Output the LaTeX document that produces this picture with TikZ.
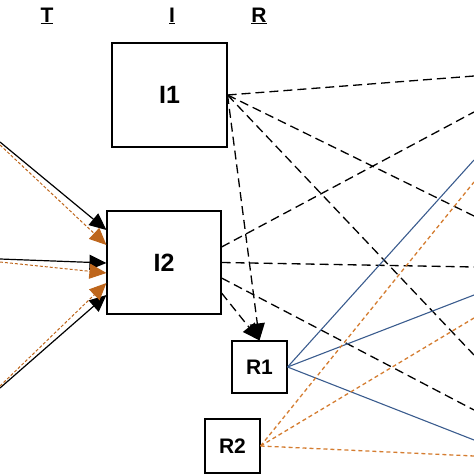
\documentclass[tikz,border=0pt]{standalone}
\usepackage{fontspec}
\setmainfont{Liberation Sans}
\usetikzlibrary{arrows.meta,positioning,calc}

\definecolor{linkblue}{RGB}{58,92,142}
\definecolor{linkorange}{RGB}{212,124,48}
\definecolor{tiporange}{RGB}{190,102,28}

\begin{document}
\begin{tikzpicture}[x=1pt,y=-1pt,
    box/.style={draw,line width=1.1pt,inner sep=0pt},
    ibox/.style={box,font=\bfseries\fontsize{25}{28}\selectfont},
    rbox/.style={box,font=\bfseries\fontsize{21}{24}\selectfont},
    head/.style={font=\bfseries\fontsize{21}{24}\selectfont},
    blackdash/.style={dash pattern=on 9pt off 5pt,line width=1.3pt},
    orangedash/.style={linkorange,dash pattern=on 4pt off 3pt,line width=1.3pt},
    bluelink/.style={linkblue,line width=1.1pt},
    intip/.style={-{Triangle[length=17pt,width=15pt]}},
    orangein/.style={tiporange,dash pattern=on 3pt off 2pt,line width=1pt,
        -{Triangle[length=17pt,width=15pt,fill=tiporange]}}]
\useasboundingbox (0,0) rectangle (474,474);

% Headings
\node[head] (tHead) at (47,16) {\underline{T}};
\node[head] (iHead) at (172,16) {\underline{I}};
\node[head] (rHead) at (259,16) {\underline{R}};

% Boxes
\node[ibox,minimum width=115pt,minimum height=104pt] (i1) at (169.5,95) {I1};
\node[ibox,minimum width=114pt,minimum height=103pt] (i2) at (164,262.5) {I2};
\node[rbox,minimum width=55pt,minimum height=52pt] (r1) at (259.5,367) {R1};
\node[rbox,minimum width=55pt,minimum height=54pt] (r2) at (232.5,446) {R2};

% Free ends on the right edge
\foreach \n/\y in {1/76,2/216,3/355,4/112,5/267,6/410,7/160,8/295,9/440,10/182,11/318,12/456}
    \coordinate (e\n) at (474,\y);

% Free ends on the left edge
\foreach \n/\y in {1/142,2/145,3/259,4/262,5/388,6/386}
    \coordinate (s\n) at (0,\y);

% Inputs into I2
\draw[line width=1.2pt,intip] (s1) -- ([yshift=32.5pt]i2.west);
\draw[line width=1.2pt,intip] (s3) -- ([yshift=-0.5pt]i2.west);
\draw[line width=1.2pt,intip] (s5) -- ([yshift=-32.5pt]i2.west);
\draw[orangein] (s2) -- ([yshift=17.5pt]i2.west);
\draw[orangein] (s4) -- ([yshift=-10.5pt]i2.west);
\draw[orangein] (s6) -- ([yshift=-20.5pt]i2.west);

% Links from I1
\foreach \e in {1,2,3}
    \draw[blackdash] (i1.east) -- (e\e);
\draw[blackdash,intip] (i1.east) -- (r1.north);

% Links from I2
\draw[blackdash] ([yshift=15.5pt]i2.east) -- (e4);
\draw[blackdash] (i2.east) -- (e5);
\draw[blackdash] ([yshift=-15.5pt]i2.east) -- (e6);
\draw[blackdash,intip] ([yshift=-30.5pt]i2.east) -- (r1.north);

% Links from R1 and R2
\foreach \e in {7,8,9}
    \draw[bluelink] (r1.east) -- (e\e);
\foreach \e in {10,11,12}
    \draw[orangedash] (r2.east) -- (e\e);
\end{tikzpicture}
\end{document}
